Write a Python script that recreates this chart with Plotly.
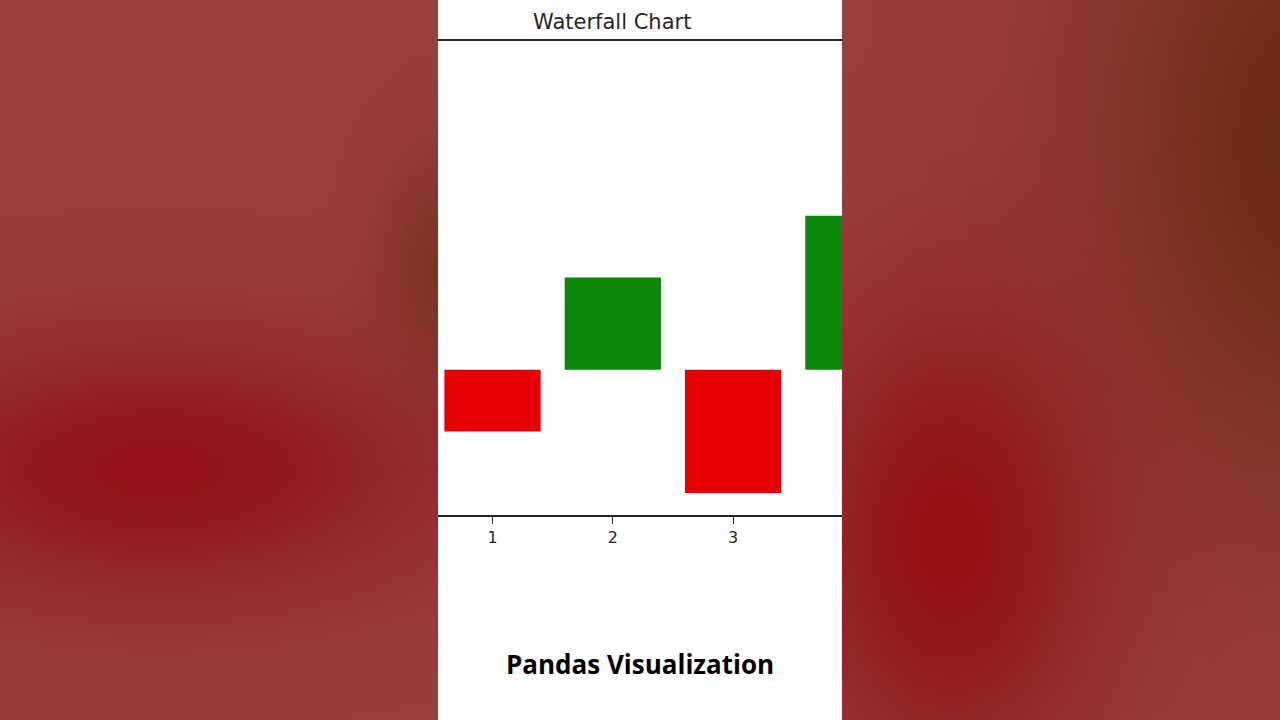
import base64
import struct
import zlib

import numpy as np
import plotly.graph_objects as go

# ---- data ----
categories = [1, 2, 3, 4]
changes = [-20, 30, -40, 50]
tick_values = [1, 2, 3]
tick_labels = ["1", "2", "3"]
title_text = "Waterfall Chart"
caption_text = "Pandas Visualization"

W, H = 1280, 720


# ---- blurred background (decorative) ----
def make_png(arr):
    h, w, _ = arr.shape
    raw = b"".join(b"\x00" + arr[r].tobytes() for r in range(h))

    def chunk(tag, data):
        c = struct.pack(">I", len(data)) + tag + data
        return c + struct.pack(">I", zlib.crc32(tag + data) & 0xFFFFFFFF)

    png = b"\x89PNG\r\n\x1a\n"
    png += chunk(b"IHDR", struct.pack(">IIBBBBB", w, h, 8, 2, 0, 0, 0))
    png += chunk(b"IDAT", zlib.compress(raw, 9))
    png += chunk(b"IEND", b"")
    return "data:image/png;base64," + base64.b64encode(png).decode()


gw, gh = 160, 90
gx = (np.arange(gw) + 0.5) * W / gw
gy = (np.arange(gh) + 0.5) * H / gh
X, Y = np.meshgrid(gx, gy)
img = np.zeros((gh, gw, 3)) + np.array([154, 64, 64], dtype=float)
blobs = [
    ((160, 470), (210, 95), (146, 20, 26), 1.0),
    ((440, 270), (45, 85), (125, 50, 35), 0.9),
    ((1310, 140), (160, 260), (110, 44, 22), 1.0),
    ((950, 540), (110, 170), (146, 18, 20), 1.0),
]
for (cx, cy), (sx, sy), col, amp in blobs:
    w = amp * np.exp(-(((X - cx) ** 2) / (2 * sx ** 2) + ((Y - cy) ** 2) / (2 * sy ** 2)))
    img = img * (1 - w[..., None]) + np.array(col, dtype=float) * w[..., None]
bg_uri = make_png(np.clip(img, 0, 255).astype(np.uint8))

# ---- layout geometry ----
panel_x0, panel_x1 = 438 / W, 842 / W
plot_top, plot_bot = 41, 515
px_per_unit = 120.3
x_of_1 = 492.5
x_range = [1 + (438 - x_of_1) / px_per_unit, 1 + (842 - x_of_1) / px_per_unit]
y_range = [-47.1, 106.7]

colors = ["#e60005" if v < 0 else "#0c880a" for v in changes]

fig = go.Figure(
    go.Bar(
        x=categories,
        y=changes,
        marker=dict(color=colors, line=dict(width=0)),
        width=0.8,
        showlegend=False,
        hoverinfo="x+y",
    )
)

fig.update_layout(
    width=W,
    height=H,
    margin=dict(l=0, r=0, t=0, b=0),
    paper_bgcolor="#9a4040",
    plot_bgcolor="white",
    images=[
        dict(
            source=bg_uri,
            xref="paper",
            yref="paper",
            x=0,
            y=1,
            sizex=1,
            sizey=1,
            sizing="stretch",
            xanchor="left",
            yanchor="top",
            layer="below",
        )
    ],
    shapes=[
        dict(
            type="rect",
            xref="paper",
            yref="paper",
            x0=panel_x0,
            x1=panel_x1,
            y0=0,
            y1=1,
            fillcolor="white",
            line=dict(width=0),
            layer="below",
        )
    ],
    xaxis=dict(
        domain=[panel_x0, panel_x1],
        range=x_range,
        tickvals=tick_values,
        ticktext=tick_labels,
        ticks="outside",
        ticklen=7,
        tickwidth=1.2,
        tickcolor="#262626",
        showline=True,
        linecolor="#262626",
        linewidth=1.5,
        mirror=True,
        showgrid=False,
        zeroline=False,
        tickfont=dict(family="DejaVu Sans", size=16, color="#262626"),
        fixedrange=True,
    ),
    yaxis=dict(
        domain=[1 - plot_bot / H, 1 - plot_top / H],
        range=y_range,
        visible=False,
        showgrid=False,
        zeroline=False,
        fixedrange=True,
    ),
    annotations=[
        dict(
            text=title_text,
            xref="paper",
            yref="paper",
            x=612 / W,
            y=1 - 22 / H,
            xanchor="center",
            yanchor="middle",
            showarrow=False,
            font=dict(family="DejaVu Sans", size=21, color="#262626"),
        ),
        dict(
            text="<b>" + caption_text + "</b>",
            xref="paper",
            yref="paper",
            x=640 / W,
            y=1 - 664 / H,
            xanchor="center",
            yanchor="middle",
            showarrow=False,
            font=dict(family="Open Sans", size=26, color="#000000"),
        ),
    ],
)

fig.write_html(
    "out.html",
    config={"displayModeBar": False},
    post_script="document.body.style.margin='0';document.body.style.overflow='hidden';",
)
